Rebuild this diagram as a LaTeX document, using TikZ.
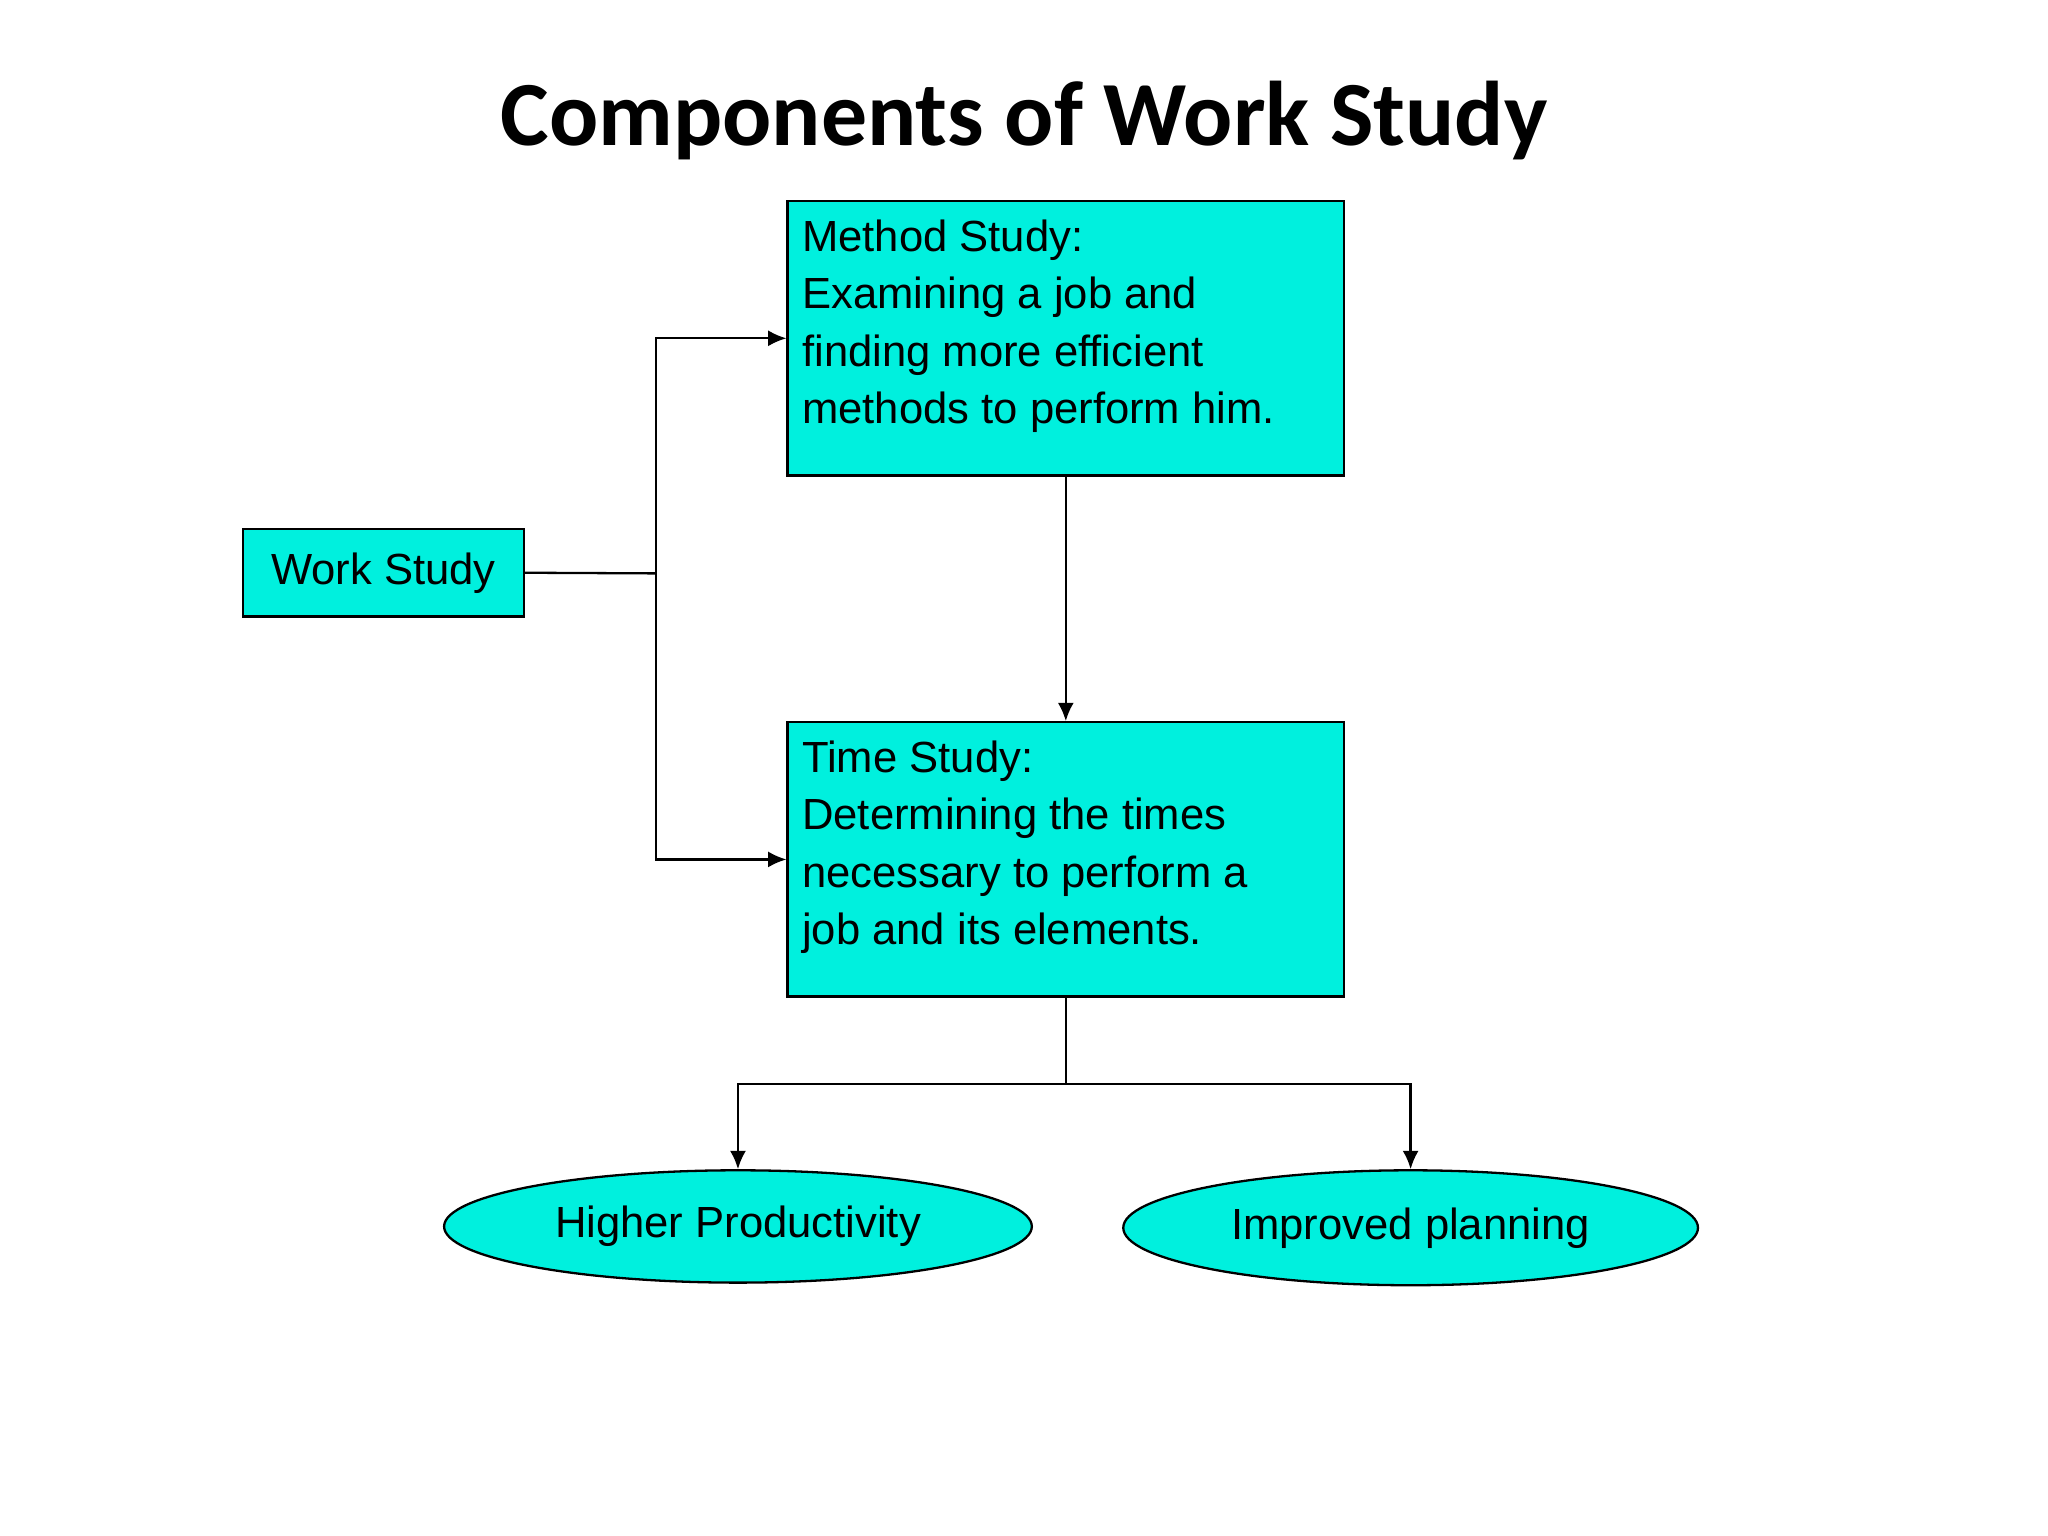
\documentclass[tikz,border=0pt]{standalone}
\usepackage{fontspec}
\setmainfont{Liberation Sans}
\newfontfamily\titlefont{Carlito}
\usetikzlibrary{shapes.geometric,arrows.meta}
\definecolor{boxfill}{RGB}{0,240,222}
\begin{document}
\begin{tikzpicture}[x=0.02cm,y=-0.02cm,
  boxstyle/.style={draw=black,line width=1pt,fill=boxfill,inner sep=0pt},
  txt/.style={font=\fontsize{19}{25}\selectfont,align=left,anchor=north west},
  oval/.style={ellipse,draw=black,line width=1pt,fill=boxfill,inner sep=0pt,font=\fontsize{19}{23}\selectfont},
  conn/.style={line width=1pt},
  arr/.style={line width=1pt,-{Latex[length=8pt,width=7pt]}}]
\useasboundingbox (0,0) rectangle (1568,1176);
\node[font=\titlefont\bfseries\fontsize{40}{48}\selectfont] (title) at (784,92) {Components of Work Study};
\node[boxstyle,minimum width=426*0.02cm,minimum height=210*0.02cm] (method) at (816,259) {};
\node[txt] (mtext) at (608,162) {Method Study:\\Examining a job and\\finding more efficient\\methods to perform him.};
\node[boxstyle,minimum width=426*0.02cm,minimum height=210*0.02cm] (time) at (816,658) {};
\node[txt] (ttext) at (608,561) {Time Study:\\Determining the times\\necessary to perform a\\job and its elements.};
\node[boxstyle,minimum width=215*0.02cm,minimum height=67*0.02cm,font=\fontsize{19}{23}\selectfont] (work) at (293.5,438.5) {Work Study};
\node[oval,minimum width=450*0.02cm,minimum height=86*0.02cm] (higher) at (565,939) {Higher Productivity};
\node[oval,minimum width=440*0.02cm,minimum height=88*0.02cm] (improved) at (1080,940) {Improved planning};
\coordinate (j1) at (502,439);
\coordinate (j2) at (816,830);
\draw[conn] (work.east) -- (j1);
\draw[arr] (j1) |- (method.west);
\draw[arr] (j1) |- (time.west);
\draw[arr] (method.south) -- (time.north);
\draw[conn] (time.south) -- (j2);
\draw[arr] (j2) -| (higher.north);
\draw[arr] (j2) -| (improved.north);
\end{tikzpicture}
\end{document}
